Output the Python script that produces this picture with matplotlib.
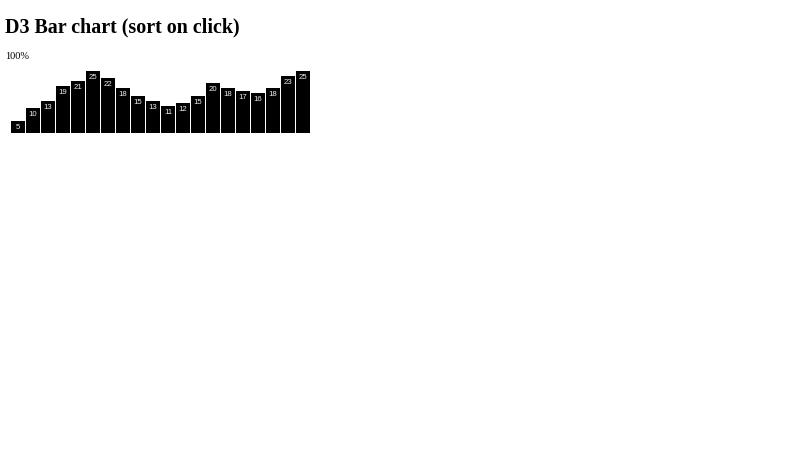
import matplotlib
matplotlib.use("Agg")
import matplotlib.pyplot as plt

# valores das barras, na ordem original
values = [5, 10, 13, 19, 21, 25, 22, 18, 15, 13, 11, 12, 15, 20, 18, 17, 16, 18, 23, 25]
title = "D3 Bar chart (sort on click)"
scale_label = "100%"

W, H = 800, 450
fig = plt.figure(figsize=(W / 100, H / 100), dpi=100)
fig.patch.set_facecolor("white")

# titulo e rotulo em pixels
fig.text(5 / W, 1 - 32 / H, title, fontsize=14.4, fontweight="bold",
         family="Liberation Serif", ha="left", va="baseline")
fig.text(5 / W, 1 - 59 / H, scale_label, fontsize=7.4,
         family="Liberation Serif", ha="left", va="baseline")

# area das barras: 20 x 15px, 2.5px por unidade
ax = fig.add_axes([11 / W, 1 - 133 / H, 300 / W, 62.5 / H])
ax.set_xlim(0, len(values))
ax.set_ylim(0, 25)
ax.axis("off")

xs = list(range(len(values)))
ax.bar(xs, values, width=14 / 15, align="edge", color="black", linewidth=0)
for x, v in zip(xs, values):
    ax.annotate(str(v), (x + 7 / 15, v), xytext=(0, -4.7), textcoords="offset points",
                ha="center", va="center", color="#eeeeee", fontsize=5.6,
                family="Liberation Sans")

fig.savefig("out.png", dpi=100)
